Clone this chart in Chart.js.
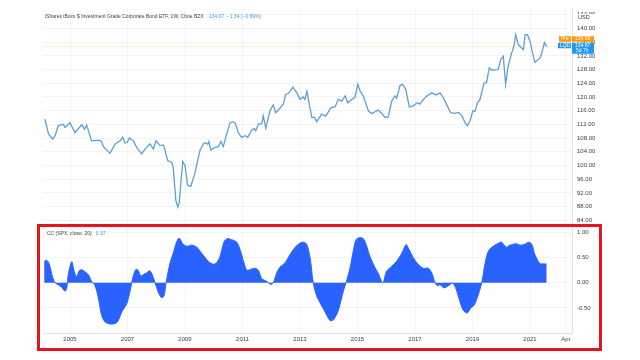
<!DOCTYPE html>
<html>
<head>
<meta charset="utf-8">
<script src="https://cdn.jsdelivr.net/npm/chart.js@4.4.1/dist/chart.umd.min.js"></script>
<style>
  html, body { margin: 0; padding: 0; background: #fff; }
  body { width: 640px; height: 360px; position: relative; overflow: hidden; }
  #price-wrap { position: absolute; left: 0; top: 0; width: 605px; height: 233px; }
  #cc-wrap { position: absolute; left: 0; top: 219px; width: 605px; height: 131px; }
  #red-box { position: absolute; left: 37px; top: 224px; width: 559px; height: 121px; border: 3px solid #e4151c; pointer-events: none; }
</style>
</head>
<body>
<div id="price-wrap"><canvas id="price-chart"></canvas></div>
<div id="cc-wrap"><canvas id="cc-chart"></canvas></div>
<div id="red-box"></div>
<script>
// weekly LQD close, sampled (decimal year -> price)
const priceYears = [2004.13, 2004.25, 2004.40, 2004.48, 2004.59, 2004.71, 2004.77, 2004.83, 2005.00, 2005.17,
  2005.41, 2005.50, 2005.58, 2005.75, 2005.98, 2006.10, 2006.16, 2006.39, 2006.57, 2006.74,
  2006.83, 2006.91, 2006.99, 2007.06, 2007.20, 2007.32, 2007.49, 2007.61, 2007.78, 2007.90,
  2007.99, 2008.13, 2008.25, 2008.40, 2008.54, 2008.59, 2008.68, 2008.75, 2008.80, 2008.92,
  2009.00, 2009.09, 2009.20, 2009.35, 2009.52, 2009.64, 2009.70, 2009.79, 2009.83, 2009.90,
  2010.04, 2010.16, 2010.25, 2010.33, 2010.45, 2010.57, 2010.68, 2010.76, 2010.85, 2010.97,
  2011.09, 2011.18, 2011.32, 2011.41, 2011.46, 2011.55, 2011.67, 2011.72, 2011.81, 2011.96,
  2012.07, 2012.15, 2012.30, 2012.42, 2012.50, 2012.59, 2012.75, 2012.89, 2013.00, 2013.11,
  2013.17, 2013.24, 2013.32, 2013.41, 2013.50, 2013.58, 2013.75, 2013.89, 2014.08, 2014.22,
  2014.33, 2014.45, 2014.57, 2014.66, 2014.80, 2014.91, 2015.01, 2015.09, 2015.20, 2015.38,
  2015.49, 2015.57, 2015.72, 2015.84, 2015.96, 2016.07, 2016.19, 2016.30, 2016.36, 2016.48,
  2016.57, 2016.68, 2016.80, 2016.94, 2017.08, 2017.17, 2017.29, 2017.41, 2017.58, 2017.73,
  2017.87, 2017.98, 2018.12, 2018.24, 2018.39, 2018.51, 2018.62, 2018.74, 2018.82, 2018.91,
  2019.01, 2019.09, 2019.17, 2019.26, 2019.40, 2019.49, 2019.58, 2019.67, 2019.84, 2019.90,
  2019.98, 2020.07, 2020.15, 2020.24, 2020.36, 2020.44, 2020.50, 2020.59, 2020.71, 2020.77,
  2020.83, 2020.91, 2021.00, 2021.09, 2021.17, 2021.35, 2021.44, 2021.50, 2021.58];
const priceValues = [113.5, 109.2, 107.7, 108.7, 111.6, 111.9, 112.0, 111.1, 112.5, 109.6,
  111.9, 110.6, 111.8, 107.2, 107.4, 107.0, 105.5, 103.6, 106.3, 107.2,
  108.2, 106.6, 106.7, 108.0, 107.2, 105.3, 103.4, 104.8, 106.3, 104.8,
  107.2, 105.8, 106.0, 101.4, 100.9, 99.5, 89.8, 87.9, 89.3, 101.2,
  100.0, 94.2, 93.9, 98.0, 104.4, 106.3, 106.7, 106.2, 107.0, 104.5,
  105.3, 105.5, 107.0, 105.5, 109.2, 112.5, 112.8, 112.1, 109.6, 108.2,
  108.7, 108.2, 110.3, 110.8, 110.1, 112.1, 112.2, 114.5, 110.9, 116.1,
  117.7, 115.4, 116.7, 117.9, 120.8, 121.0, 122.9, 121.2, 119.3, 120.0,
  119.3, 121.7, 117.9, 114.0, 114.1, 112.8, 115.0, 114.4, 116.9, 117.1,
  119.3, 118.8, 120.3, 118.3, 119.3, 119.8, 123.7, 121.7, 120.3, 115.9,
  115.2, 115.5, 116.2, 115.2, 114.0, 114.2, 118.8, 120.3, 119.6, 123.4,
  123.7, 122.2, 117.1, 117.4, 118.3, 117.9, 119.3, 120.3, 121.2, 120.6,
  121.2, 119.8, 117.4, 115.4, 115.2, 115.5, 114.7, 112.5, 111.6, 113.0,
  115.9, 115.9, 118.3, 119.3, 124.1, 124.2, 128.5, 127.8, 128.0, 128.1,
  130.9, 131.9, 123.7, 129.0, 132.8, 134.8, 138.2, 135.3, 134.3, 133.8,
  138.2, 138.2, 136.2, 132.8, 130.1, 131.4, 133.8, 135.9, 134.67];

// CC(SPX, close, 20)
const ccYears = [2004.10, 2004.19, 2004.28, 2004.40, 2004.48, 2004.59, 2004.71, 2004.83, 2004.89, 2004.94,
  2005.06, 2005.14, 2005.23, 2005.32, 2005.41, 2005.52, 2005.64, 2005.75, 2005.87, 2005.98,
  2006.10, 2006.22, 2006.39, 2006.57, 2006.68, 2006.80, 2006.97, 2007.09, 2007.20, 2007.30,
  2007.38, 2007.46, 2007.57, 2007.67, 2007.76, 2007.84, 2007.96, 2008.07, 2008.19, 2008.27,
  2008.34, 2008.48, 2008.59, 2008.71, 2008.80, 2008.92, 2009.06, 2009.23, 2009.41, 2009.58,
  2009.81, 2009.98, 2010.10, 2010.22, 2010.36, 2010.47, 2010.62, 2010.80, 2010.91, 2011.05,
  2011.15, 2011.29, 2011.43, 2011.55, 2011.67, 2011.84, 2011.98, 2012.07, 2012.19, 2012.30,
  2012.48, 2012.65, 2012.83, 2013.00, 2013.11, 2013.23, 2013.35, 2013.46, 2013.57, 2013.70,
  2013.87, 2014.04, 2014.16, 2014.33, 2014.51, 2014.60, 2014.74, 2014.85, 2014.95, 2015.06,
  2015.20, 2015.32, 2015.43, 2015.61, 2015.72, 2015.88, 2016.01, 2016.19, 2016.36, 2016.54,
  2016.69, 2016.77, 2016.94, 2017.11, 2017.29, 2017.46, 2017.58, 2017.70, 2017.78, 2017.87,
  2018.01, 2018.16, 2018.31, 2018.43, 2018.57, 2018.68, 2018.82, 2018.94, 2019.05, 2019.17,
  2019.32, 2019.43, 2019.55, 2019.72, 2019.90, 2020.01, 2020.17, 2020.30, 2020.44, 2020.53,
  2020.65, 2020.83, 2020.94, 2021.06, 2021.17, 2021.35, 2021.46, 2021.58];
const ccValues = [0.43, 0.45, 0.37, 0.10, 0.0, -0.04, -0.09, -0.17, -0.09, 0.17,
  0.42, 0.24, 0.12, 0.24, 0.26, 0.22, 0.16, 0.03, -0.06, -0.29,
  -0.65, -0.78, -0.82, -0.81, -0.75, -0.58, -0.42, -0.16, 0.14, 0.27,
  0.24, 0.14, 0.17, 0.20, 0.24, 0.19, 0.0, -0.19, -0.30, -0.26,
  0.0, 0.40, 0.59, 0.82, 0.89, 0.78, 0.73, 0.75, 0.71, 0.59,
  0.43, 0.37, 0.40, 0.53, 0.82, 0.88, 0.86, 0.81, 0.67, 0.40,
  0.25, 0.27, 0.29, 0.25, 0.08, 0.03, -0.03, 0.0, 0.20, 0.31,
  0.40, 0.56, 0.71, 0.79, 0.81, 0.77, 0.50, 0.0, -0.25, -0.40,
  -0.58, -0.75, -0.74, -0.55, -0.16, 0.0, 0.30, 0.63, 0.86, 0.90,
  0.88, 0.73, 0.53, 0.30, 0.19, 0.0, 0.23, 0.33, 0.43, 0.59,
  0.76, 0.69, 0.50, 0.37, 0.29, 0.29, 0.20, 0.0, -0.06, -0.04,
  -0.10, -0.06, -0.01, -0.13, -0.39, -0.55, -0.60, -0.50, -0.45, -0.29,
  0.0, 0.37, 0.63, 0.73, 0.79, 0.81, 0.71, 0.75, 0.77, 0.78,
  0.75, 0.77, 0.81, 0.77, 0.56, 0.38, 0.38, 0.37];

const timeTicks = [2005, 2007, 2009, 2011, 2013, 2015, 2017, 2019, 2021, 2022.25];
const timeLabels = ['2005', '2007', '2009', '2011', '2013', '2015', '2017', '2019', '2021', 'Apr'];
const priceTicks = [84, 88, 92, 96, 100, 104, 108, 112, 116, 120, 124, 128, 132, 136, 140, 144];
const ccTicks = [-0.5, 0, 0.5, 1];

const lastPrice = 134.67;
const preClose = 134.68;

const xMin = 2004.06;
const xMax = 2022.46;
const gridColor = 'rgba(42, 46, 57, 0.05)';
const axisText = '#3a3e48';
const tvBlue = '#2962ff';
const FONT = "'Liberation Sans', Arial, sans-serif";

function tickList(values) {
  return values.map(v => ({ value: v }));
}

// texts drawn on top of the price pane
const priceOverlay = {
  id: 'priceOverlay',
  afterDraw(chart) {
    const ctx = chart.ctx;
    const yScale = chart.scales.y;
    ctx.save();
    ctx.textBaseline = 'middle';
    ctx.font = '5px ' + FONT;
    ctx.fillStyle = '#444';
    const title = 'iShares iBoxx $ Investment Grade Corporate Bond ETF, 1W, Cboe BZX';
    ctx.fillText(title, 45, 17);
    const w = ctx.measureText(title).width;
    ctx.fillStyle = '#3d9be9';
    ctx.fillText('134.67  \u22121.34 (\u22120.99%)', 45 + w + 5, 17);

    // currency label
    ctx.fillStyle = '#fff';
    ctx.fillRect(574, 14, 28, 6);
    ctx.fillStyle = '#333';
    ctx.font = '5.5px ' + FONT;
    ctx.fillText('USD', 578, 17.5);

    // last price / pre-market labels
    const yLast = yScale.getPixelForValue(lastPrice);
    ctx.font = '5px ' + FONT;
    ctx.fillStyle = '#ff9800';
    ctx.fillRect(559, yLast - 10.5, 12, 5.5);
    ctx.fillRect(572, yLast - 10.5, 22, 5.5);
    ctx.fillStyle = '#2196f3';
    ctx.fillRect(558, yLast - 4, 13, 5.5);
    ctx.fillRect(572, yLast - 4, 22, 11);
    ctx.fillStyle = '#fff';
    ctx.fillText('Pre', 561, yLast - 7.7);
    ctx.fillText(preClose.toFixed(2), 575, yLast - 7.7);
    ctx.fillText('LQD', 560, yLast - 1.2);
    ctx.fillText(lastPrice.toFixed(2), 575, yLast - 1.2);
    ctx.fillText('5d 7h', 576, yLast + 4.2);
    ctx.restore();
  }
};

const ccOverlay = {
  id: 'ccOverlay',
  afterDraw(chart) {
    const ctx = chart.ctx;
    ctx.save();
    ctx.textBaseline = 'middle';
    ctx.font = '5px ' + FONT;
    ctx.fillStyle = '#444';
    const t = 'CC (SPX, close, 20)';
    ctx.fillText(t, 47, 14.5);
    ctx.fillStyle = '#3d9be9';
    ctx.fillText(ccValues[ccValues.length - 1].toFixed(2), 47 + ctx.measureText(t).width + 4, 14.5);
    ctx.restore();
  }
};

const priceChart = new Chart(document.getElementById('price-chart'), {
  type: 'line',
  data: {
    datasets: [
      {
        data: priceYears.map((x, i) => ({ x: x, y: priceValues[i] })),
        borderColor: '#5ea0d6',
        borderWidth: 1.3,
        pointRadius: 0,
        tension: 0
      },
      {
        data: [{ x: xMin, y: preClose }, { x: xMax, y: preClose }],
        borderColor: 'rgba(255, 152, 0, 0.18)',
        borderWidth: 1,
        pointRadius: 0
      }
    ]
  },
  options: {
    responsive: true,
    maintainAspectRatio: false,
    animation: false,
    layout: { padding: { left: 43, top: 7, bottom: 2, right: 0 } },
    plugins: { legend: { display: false }, tooltip: { enabled: false } },
    scales: {
      x: {
        type: 'linear', min: xMin, max: xMax,
        afterBuildTicks: s => { s.ticks = tickList(timeTicks); },
        ticks: { display: false },
        grid: { color: gridColor, drawTicks: false },
        border: { display: false },
        afterFit: s => { s.height = 0; }
      },
      y: {
        position: 'right', min: 82.8, max: 145.8,
        afterBuildTicks: s => { s.ticks = tickList(priceTicks); },
        ticks: { font: { size: 6, family: FONT }, color: axisText, padding: 5, callback: v => v.toFixed(2) },
        grid: { color: gridColor, drawTicks: false },
        border: { color: '#e0e3eb' },
        afterFit: s => { s.width = 33; }
      }
    }
  },
  plugins: [priceOverlay]
});

const ccChart = new Chart(document.getElementById('cc-chart'), {
  type: 'line',
  data: {
    datasets: [{
      data: ccYears.map((x, i) => ({ x: x, y: ccValues[i] })),
      borderColor: tvBlue,
      backgroundColor: tvBlue,
      borderWidth: 1,
      fill: 'origin',
      pointRadius: 0,
      tension: 0.3
    }]
  },
  options: {
    responsive: true,
    maintainAspectRatio: false,
    animation: false,
    layout: { padding: { left: 43, top: 4, bottom: 0, right: 0 } },
    plugins: { legend: { display: false }, tooltip: { enabled: false } },
    scales: {
      x: {
        type: 'linear', min: xMin, max: xMax,
        afterBuildTicks: s => { s.ticks = tickList(timeTicks); },
        ticks: { font: { size: 6, family: FONT }, color: axisText, padding: 3, maxRotation: 0, callback: (v, i) => timeLabels[i] },
        grid: { color: gridColor, drawTicks: false },
        border: { color: '#e0e3eb' },
        afterFit: s => { s.height = 17; }
      },
      y: {
        position: 'right', min: -1.0, max: 1.1,
        afterBuildTicks: s => { s.ticks = tickList(ccTicks); },
        ticks: { font: { size: 6, family: FONT }, color: axisText, padding: 5, callback: v => v.toFixed(2) },
        grid: { color: gridColor, drawTicks: false },
        border: { color: '#e0e3eb' },
        afterFit: s => { s.width = 33; }
      }
    }
  },
  plugins: [ccOverlay]
});
</script>
</body>
</html>
